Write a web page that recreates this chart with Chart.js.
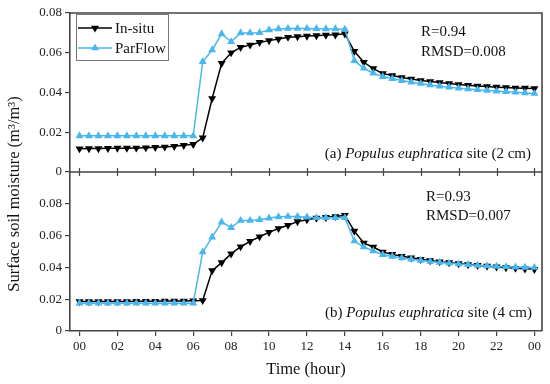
<!DOCTYPE html>
<html>
<head>
<meta charset="utf-8">
<script src="https://cdn.jsdelivr.net/npm/chart.js@4/dist/chart.umd.min.js"></script>
<style>
  html, body { margin: 0; padding: 0; background: #fff; }
  #wrap { width: 550px; height: 384px; position: relative; }
</style>
</head>
<body>
<div id="wrap"><canvas id="soil" width="550" height="384"></canvas></div>
<script>
// time of day, half-hour steps
const hours = [0,0.5,1,1.5,2,2.5,3,3.5,4,4.5,5,5.5,6,6.5,7,7.5,8,8.5,9,9.5,10,10.5,11,11.5,
  12,12.5,13,13.5,14,14.5,15,15.5,16,16.5,17,17.5,18,18.5,19,19.5,20,20.5,21,21.5,22,22.5,23,23.5,24];
const hourTicks = [0,2,4,6,8,10,12,14,16,18,20,22,24];
const moistTicks = [0,0.02,0.04,0.06,0.08];

// (a) 2 cm
const insituA = [0.0117,0.0118,0.0118,0.0119,0.0120,0.0120,0.0121,0.0122,0.0124,0.0126,0.0129,0.0134,0.0139,
  0.0172,0.0370,0.0547,0.0600,0.0627,0.0639,0.0652,0.0661,0.0669,0.0678,0.0681,0.0684,0.0686,0.0689,0.0690,0.0695,
  0.0607,0.0552,0.0520,0.0495,0.0485,0.0475,0.0468,0.0460,0.0455,0.0450,0.0445,0.0440,0.0436,0.0433,0.0430,0.0427,0.0425,0.0423,0.0422,0.0420];
const parflowA = [0.0182,0.0182,0.0182,0.0182,0.0182,0.0182,0.0182,0.0182,0.0182,0.0182,0.0182,0.0182,0.0182,
  0.0555,0.0614,0.0695,0.0655,0.0700,0.0700,0.0701,0.0715,0.0720,0.0722,0.0722,0.0722,0.0721,0.0720,0.0720,0.0718,
  0.0560,0.0522,0.0497,0.0480,0.0470,0.0460,0.0452,0.0445,0.0438,0.0432,0.0427,0.0422,0.0418,0.0414,0.0410,0.0407,0.0404,0.0401,0.0398,0.0395];

// (b) 4 cm
const insituB = [0.0185,0.0185,0.0185,0.0186,0.0186,0.0186,0.0187,0.0187,0.0187,0.0188,0.0188,0.0189,0.0190,
  0.0192,0.0380,0.0430,0.0485,0.0530,0.0564,0.0593,0.0620,0.0645,0.0665,0.0688,0.0700,0.0710,0.0715,0.0720,0.0728,
  0.0628,0.0553,0.0528,0.0497,0.0482,0.0470,0.0460,0.0451,0.0443,0.0436,0.0430,0.0424,0.0418,0.0413,0.0408,0.0403,0.0399,0.0395,0.0391,0.0388];
const parflowB = [0.0175,0.0175,0.0175,0.0175,0.0175,0.0175,0.0175,0.0175,0.0175,0.0175,0.0175,0.0175,0.0175,
  0.0497,0.0590,0.0685,0.0650,0.0695,0.0695,0.0700,0.0710,0.0718,0.0720,0.0720,0.0716,0.0712,0.0712,0.0712,0.0712,
  0.0566,0.0528,0.0503,0.0480,0.0469,0.0459,0.0451,0.0444,0.0437,0.0431,0.0426,0.0421,0.0417,0.0413,0.0409,0.0406,0.0404,0.0402,0.0400,0.0399];

const statsA = ['R=0.94', 'RMSD=0.008'];
const statsB = ['R=0.93', 'RMSD=0.007'];

const BLUE = '#4ab6ee';
const FRAME = '#444';
const SERIF = '"Liberation Serif", "Times New Roman", serif';

function pts(vals) {
  return hours.map((h, i) => ({x: h, y: vals[i]}));
}

function series(label, vals, axis, color, rot, order) {
  return {
    label: label,
    data: pts(vals),
    yAxisID: axis,
    borderColor: color,
    backgroundColor: color,
    borderWidth: 1.5,
    pointStyle: 'triangle',
    pointRotation: rot,
    pointRadius: 4.6,
    pointBorderWidth: 0,
    tension: 0,
    order: order
  };
}

const yScale = (max, ticks) => ({
  type: 'linear',
  position: 'left',
  stack: 'panels',
  stackWeight: 1,
  min: 0,
  max: max,
  afterBuildTicks: s => { s.ticks = ticks.map(v => ({value: v})); },
  afterFit: s => { s.width = 70; },
  grid: { drawOnChartArea: false, drawTicks: true, tickLength: 5, color: FRAME, lineWidth: 1.2 },
  border: { display: true, color: FRAME, width: 1.6 },
  ticks: {
    color: '#222',
    padding: 3,
    font: { family: SERIF, size: 13 },
    callback: v => v === 0 ? '0' : v.toFixed(2)
  }
});

// frame, separator, legend and text labels
const decor = {
  id: 'decor',
  afterDraw(chart) {
    const ctx = chart.ctx;
    const a = chart.chartArea;
    const x = chart.scales.x;
    const mid = chart.scales.yTop.bottom;
    ctx.save();
    ctx.strokeStyle = FRAME;
    ctx.lineWidth = 1.6;
    ctx.beginPath();
    ctx.moveTo(a.left, a.top); ctx.lineTo(a.right, a.top); ctx.lineTo(a.right, a.bottom);
    ctx.moveTo(a.left, mid); ctx.lineTo(a.right, mid);
    ctx.stroke();
    ctx.lineWidth = 1.2;
    ctx.beginPath();
    hourTicks.forEach(h => {
      const px = Math.round(x.getPixelForValue(h)) + 0.5;
      ctx.moveTo(px, mid - 4); ctx.lineTo(px, mid + 4);
    });
    ctx.stroke();

    // legend
    const lx = 76, ly = 14;
    ctx.strokeStyle = '#777';
    ctx.lineWidth = 1;
    ctx.strokeRect(lx + 0.5, ly + 0.5, 92, 46);
    const rows = [
      {text: 'In-situ', color: '#000', rot: 180, y: ly + 14},
      {text: 'ParFlow', color: BLUE, rot: 0, y: ly + 34}
    ];
    rows.forEach(r => {
      ctx.strokeStyle = r.color;
      ctx.fillStyle = r.color;
      ctx.lineWidth = 1.5;
      ctx.beginPath(); ctx.moveTo(lx + 2, r.y); ctx.lineTo(lx + 36, r.y); ctx.stroke();
      Chart.helpers.drawPoint(ctx, {pointStyle: 'triangle', radius: 4.6, rotation: r.rot, borderWidth: 0}, lx + 19, r.y);
      ctx.fillStyle = '#111';
      ctx.font = '15px ' + SERIF;
      ctx.textBaseline = 'middle';
      ctx.textAlign = 'left';
      ctx.fillText(r.text, lx + 39, r.y + 1);
    });

    // statistics and site labels
    ctx.fillStyle = '#111';
    ctx.font = '15px ' + SERIF;
    ctx.textAlign = 'left';
    ctx.textBaseline = 'middle';
    ctx.fillText(statsA[0], 421, 32);
    ctx.fillText(statsA[1], 421, 52);
    ctx.fillText(statsB[0], 426, 197);
    ctx.fillText(statsB[1], 426, 216);
    siteLabel(ctx, '(a) ', '2 cm', a.right - 11, 154);
    siteLabel(ctx, '(b) ', '4 cm', a.right - 10, 313);

    // y title across both panels
    ctx.translate(15, 194);
    ctx.rotate(-Math.PI / 2);
    ctx.textAlign = 'center';
    ctx.font = '16.5px ' + SERIF;
    ctx.fillText('Surface soil moisture (m\u00b3/m\u00b3)', 0, 0);
    ctx.restore();
  }
};

function siteLabel(ctx, pre, depth, right, y) {
  const parts = [
    {t: pre, f: '15px ' + SERIF},
    {t: 'Populus euphratica', f: 'italic 15px ' + SERIF},
    {t: ' site (' + depth + ')', f: '15px ' + SERIF}
  ];
  let w = 0;
  parts.forEach(p => { ctx.font = p.f; p.w = ctx.measureText(p.t).width; w += p.w; });
  let cx = right - w;
  ctx.textAlign = 'left';
  parts.forEach(p => { ctx.font = p.f; ctx.fillText(p.t, cx, y); cx += p.w; });
}

new Chart(document.getElementById('soil'), {
  type: 'line',
  data: {
    datasets: [
      series('ParFlow', parflowA, 'yTop', BLUE, 0, 0),
      series('In-situ', insituA, 'yTop', '#000', 180, 1),
      series('ParFlow', parflowB, 'yBot', BLUE, 0, 0),
      series('In-situ', insituB, 'yBot', '#000', 180, 1)
    ]
  },
  options: {
    responsive: false,
    animation: false,
    devicePixelRatio: 1,
    layout: { padding: { top: 13, right: 8, left: 0, bottom: 0 } },
    plugins: { legend: { display: false }, tooltip: { enabled: false } },
    scales: {
      x: {
        type: 'linear',
        min: -0.5,
        max: 24.4,
        afterBuildTicks: s => { s.ticks = hourTicks.map(v => ({value: v})); },
        afterFit: s => { s.height = 53; },
        grid: { drawOnChartArea: false, drawTicks: true, tickLength: 5, color: FRAME, lineWidth: 1.2 },
        border: { display: true, color: FRAME, width: 1.6 },
        ticks: {
          color: '#222',
          padding: 3,
          maxRotation: 0,
          font: { family: SERIF, size: 13 },
          callback: v => v === 24 ? '00' : String(v).padStart(2, '0')
        },
        title: {
          display: true,
          text: 'Time (hour)',
          color: '#111',
          font: { family: SERIF, size: 16.5 },
          padding: { top: 0, bottom: 4 }
        }
      },
      // stacked axes are placed bottom-up in definition order
      yBot: yScale(0.1, moistTicks),
      yTop: yScale(0.08, moistTicks)
    }
  },
  plugins: [decor]
});
</script>
</body>
</html>
